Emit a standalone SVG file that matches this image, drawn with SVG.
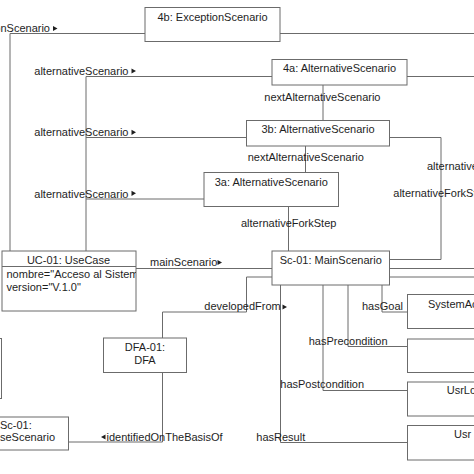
<svg xmlns="http://www.w3.org/2000/svg" xmlns:xlink="http://www.w3.org/1999/xlink" width="474" height="474" viewBox="0 0 474 474">
<style>
.box{fill:#fff;stroke:#6b6b6b;stroke-width:1}
.ln{fill:none;stroke:#6b6b6b;stroke-width:1}
text{font-family:"Liberation Sans",Arial,sans-serif;font-size:11px;fill:#1e1e1e}
.c{text-anchor:middle}
.ar{fill:#1e1e1e}
</style>
<defs>
<path id="ar" d="M0,-2.6L4.5,0L0,2.6Z"/>
<clipPath id="ucclip"><rect x="2" y="251" width="134" height="60"/></clipPath>
</defs>
<rect width="474" height="474" fill="#fff"/>
<g id="connectors">
<path class="ln" d="M145,33.5H10V251"/>
<path class="ln" d="M280,33.5H474"/>
<path class="ln" d="M272,76.5H86V251"/>
<path class="ln" d="M407,76.5H474"/>
<path class="ln" d="M323,85V120.5"/>
<path class="ln" d="M246.5,137.5H86"/>
<path class="ln" d="M389.5,137.5H441V259.5H389.5"/>
<path class="ln" d="M305.5,146V172.5"/>
<path class="ln" d="M204,199H86"/>
<path class="ln" d="M288.5,206.5V251"/>
<path class="ln" d="M136,268.5H272"/>
<path class="ln" d="M389.5,268.5H474"/>
<path class="ln" d="M389.5,277H474"/>
<path class="ln" d="M272,277H246.5V312H162.5V338"/>
<path class="ln" d="M162.5,372.5V442H68.5"/>
<path class="ln" d="M382,285V312H407.5"/>
<path class="ln" d="M348,285V346.5H407.5"/>
<path class="ln" d="M323,285V390.5H407.5"/>
<path class="ln" d="M280.5,285V442.5H407.5"/>
<text x="50" y="31.5" text-anchor="end">exceptionScenario</text>
<use href="#ar" class="ar" x="53" y="28.5"/>
<text x="34.3" y="74.5">alternativeScenario</text>
<use href="#ar" class="ar" x="131.5" y="71"/>
<text x="34.3" y="136">alternativeScenario</text>
<use href="#ar" class="ar" x="131.5" y="132.3"/>
<text x="34.3" y="197.5">alternativeScenario</text>
<use href="#ar" class="ar" x="131.5" y="193.3"/>
<text x="264.3" y="101">nextAlternativeScenario</text>
<text x="247.7" y="161">nextAlternativeScenario</text>
<text x="427" y="170">alternativeScenario</text>
<text x="393.3" y="197">alternativeForkStep</text>
<text x="241" y="227">alternativeForkStep</text>
<text x="150" y="266">mainScenario</text>
<use href="#ar" class="ar" x="217.5" y="262.5"/>
<text x="204.3" y="310">developedFrom</text>
<use href="#ar" class="ar" x="282.5" y="307"/>
<use href="#ar" class="ar" transform="translate(105.5,437) scale(-1,1)"/>
<text x="106.5" y="441">identifiedOnTheBasisOf</text>
<text x="362" y="310">hasGoal</text>
<text x="308.7" y="345">hasPrecondition</text>
<text x="280.3" y="388">hasPostcondition</text>
<text x="256.3" y="441">hasResult</text>
</g>
<g id="n4b">
<rect class="box" x="145" y="7.5" width="135" height="34"/>
<text class="c" x="212.5" y="20.5">4b: ExceptionScenario</text>
</g>
<g id="n4a">
<rect class="box" x="272" y="59.5" width="135" height="25.5"/>
<text class="c" x="339.5" y="72">4a: AlternativeScenario</text>
</g>
<g id="n3b">
<rect class="box" x="246.5" y="120.5" width="143" height="25.5"/>
<text class="c" x="318" y="133">3b: AlternativeScenario</text>
</g>
<g id="n3a">
<rect class="box" x="204" y="172.5" width="134.5" height="34"/>
<text class="c" x="271.3" y="185.5">3a: AlternativeScenario</text>
</g>
<g id="nMain">
<rect class="box" x="272" y="251" width="117.5" height="34"/>
<text class="c" x="330.7" y="263.5">Sc-01: MainScenario</text>
</g>
<g id="nUC">
<rect class="box" x="2" y="251" width="134" height="60"/>
<line class="ln" x1="2" y1="266.5" x2="136" y2="266.5"/>
<text class="c" x="68.5" y="263.5">UC-01: UseCase</text>
<g clip-path="url(#ucclip)">
<text x="6.5" y="278">nombre="Acceso al Sistema"</text>
<text x="6.5" y="291">version="V.1.0"</text>
</g>
</g>
<g id="nDFA">
<rect class="box" x="103.5" y="338" width="83" height="34.5"/>
<text class="c" x="145" y="351">DFA-01:</text>
<text class="c" x="145" y="363.5">DFA</text>
</g>
<g id="nLeftPartial">
<rect class="box" x="-100" y="338.5" width="101.5" height="60"/>
</g>
<g id="nUseScenario">
<rect class="box" x="-100" y="417" width="168.5" height="33"/>
<text x="0" y="429">Sc-01:</text>
<text x="0" y="441">seScenario</text>
</g>
<g id="nGoal">
<rect class="box" x="407.5" y="294.5" width="100" height="34"/>
<text x="428" y="308">SystemAc</text>
</g>
<g id="nPre">
<rect class="box" x="407.5" y="339" width="100" height="33.5"/>
</g>
<g id="nPost">
<rect class="box" x="407.5" y="382" width="100" height="34"/>
<text x="446.7" y="394">UsrLc</text>
</g>
<g id="nResult">
<rect class="box" x="407.5" y="425.5" width="100" height="34.5"/>
<text x="454" y="438">Usr</text>
</g>
</svg>
